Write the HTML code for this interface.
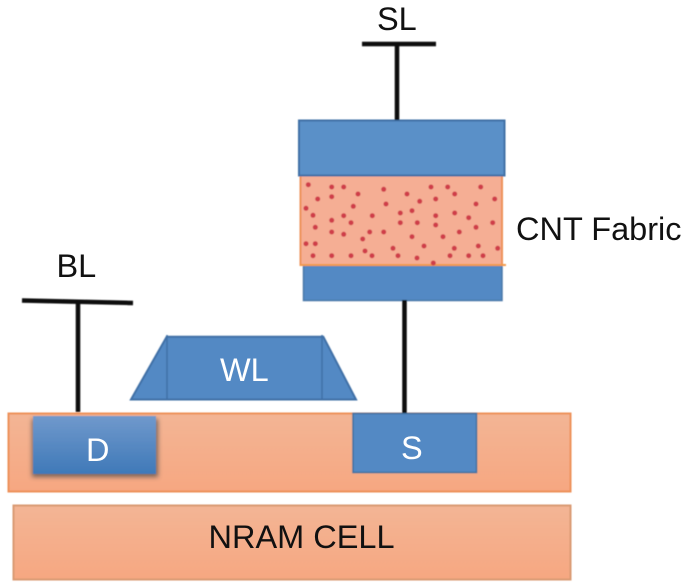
<!DOCTYPE html>
<html><head><meta charset="utf-8"><style>html,body{margin:0;padding:0;background:#fff}svg{display:block}text{font-family:"Liberation Sans",sans-serif}</style></head>
<body><svg xmlns="http://www.w3.org/2000/svg" width="685" height="585" viewBox="0 0 685 585">
<defs>
<linearGradient id="o" x1="0" y1="0" x2="0" y2="1"><stop offset="0" stop-color="#f3b595"/><stop offset="1" stop-color="#f6a781"/></linearGradient>
<linearGradient id="d" x1="0" y1="0" x2="0" y2="1"><stop offset="0" stop-color="#7099cc"/><stop offset="1" stop-color="#3f79b8"/></linearGradient>
<filter id="s" x="-20%" y="-20%" width="140%" height="140%"><feGaussianBlur stdDeviation="2.5"/></filter>
<filter id="b"><feGaussianBlur stdDeviation="0.6"/></filter>
</defs>
<g filter="url(#b)">
<rect x="8.500" y="413.500" width="562" height="78" fill="url(#o)" stroke="#ee9158" stroke-width="2"/>
<rect x="13.500" y="505.500" width="557" height="74" fill="url(#o)" stroke="#d99a72" stroke-width="2"/>
<rect x="32" y="419" width="126" height="58" fill="#444" opacity=".7" filter="url(#s)"/>
<rect x="33" y="416" width="123" height="58" fill="url(#d)"/>
<rect x="353" y="413.500" width="123.500" height="59" fill="#5389c4" stroke="#41719f" stroke-width="1.500"/>
<path d="M131 399.500L166.700 336.700H323.300L356 399.500Z" fill="#5389c4" stroke="#3f6fa6" stroke-width="2"/>
<path d="M167 335V399M322 335V399" stroke="#3f6fa6" stroke-width="1.500"/>
<rect x="300.500" y="175" width="201.500" height="90" fill="#f5ae94" stroke="#ee9158" stroke-width="2"/>
<rect x="299" y="120.500" width="205.500" height="55" fill="#5a90c8" stroke="#3f6fa6" stroke-width="2"/>
<rect x="303.500" y="265.500" width="198.500" height="35" fill="#5389c4" stroke="#4a78a8" stroke-width="1.500"/>
<path d="M300 265H506" stroke="#f29a4a" stroke-width="2"/>
<g fill="#cf3d48">
<circle cx="308.300" cy="184.700" r="2.500"/><circle cx="331.700" cy="187" r="2.500"/><circle cx="343.700" cy="187" r="2.500"/><circle cx="358" cy="194" r="2.500"/><circle cx="383.700" cy="189.300" r="2.500"/><circle cx="407" cy="194" r="2.500"/><circle cx="431" cy="187" r="2.500"/><circle cx="447.700" cy="187" r="2.500"/><circle cx="454.700" cy="194" r="2.500"/><circle cx="480.700" cy="187" r="2.500"/>
<circle cx="317.700" cy="199" r="2.500"/><circle cx="331.700" cy="196.700" r="2.500"/><circle cx="353.300" cy="206.300" r="2.500"/><circle cx="386" cy="204" r="2.500"/><circle cx="419.700" cy="201.300" r="2.500"/><circle cx="435.700" cy="199" r="2.500"/><circle cx="476" cy="204" r="2.500"/><circle cx="494.700" cy="199" r="2.500"/><circle cx="306" cy="208.300" r="2.500"/><circle cx="313" cy="215.300" r="2.500"/>
<circle cx="331.700" cy="220.300" r="2.500"/><circle cx="343.700" cy="215.700" r="2.500"/><circle cx="351" cy="222.700" r="2.500"/><circle cx="372.300" cy="215.700" r="2.500"/><circle cx="400.300" cy="213" r="2.500"/><circle cx="412" cy="210.700" r="2.500"/><circle cx="400.300" cy="222.700" r="2.500"/><circle cx="417.300" cy="222.700" r="2.500"/><circle cx="435.700" cy="215.700" r="2.500"/><circle cx="435.700" cy="225" r="2.500"/>
<circle cx="454.700" cy="213" r="2.500"/><circle cx="468.700" cy="217.700" r="2.500"/><circle cx="476" cy="227.300" r="2.500"/><circle cx="492.700" cy="222.700" r="2.500"/><circle cx="315.300" cy="227.300" r="2.500"/><circle cx="331.700" cy="232" r="2.500"/><circle cx="343.700" cy="234.300" r="2.500"/><circle cx="362.700" cy="239" r="2.500"/><circle cx="369.700" cy="232" r="2.500"/><circle cx="383.700" cy="232" r="2.500"/>
<circle cx="412" cy="236.700" r="2.500"/><circle cx="443" cy="236.700" r="2.500"/><circle cx="459.300" cy="232" r="2.500"/><circle cx="306" cy="243.700" r="2.500"/><circle cx="315.300" cy="243.700" r="2.500"/><circle cx="365" cy="251" r="2.500"/><circle cx="393" cy="248.300" r="2.500"/><circle cx="424" cy="246" r="2.500"/><circle cx="454.300" cy="248.300" r="2.500"/><circle cx="478.300" cy="246" r="2.500"/><circle cx="497.700" cy="248.300" r="2.500"/>
<circle cx="313" cy="255.700" r="2.500"/><circle cx="331.700" cy="255.700" r="2.500"/><circle cx="351" cy="255.700" r="2.500"/><circle cx="372" cy="255.700" r="2.500"/><circle cx="398" cy="255.700" r="2.500"/><circle cx="417" cy="258" r="2.500"/><circle cx="433.300" cy="263" r="2.500"/><circle cx="450" cy="255.700" r="2.500"/><circle cx="468.700" cy="255.700" r="2.500"/><circle cx="483" cy="255.700" r="2.500"/>
</g>
<g stroke="#0a0a0a" fill="none" stroke-width="4.500">
<path d="M362 44H436"/><path d="M397 44V120" />
<path d="M22 300.500L133 303"/><path d="M78 302V412"/>
<path d="M404.500 300V413"/>
</g>
</g>
<text x="377" y="30" font-size="32.500" fill="#111">SL</text>
<text x="56.500" y="277" font-size="32.500" fill="#111">BL</text>
<text x="516" y="240" font-size="32.500" fill="#111">CNT Fabric</text>
<text x="220" y="381" font-size="32.500" fill="#fff">WL</text>
<text x="86" y="461" font-size="32.500" fill="#fff">D</text>
<text x="401" y="459" font-size="32.500" fill="#fff">S</text>
<text x="208.500" y="548" font-size="32.500" fill="#111">NRAM CELL</text>
</svg></body></html>
